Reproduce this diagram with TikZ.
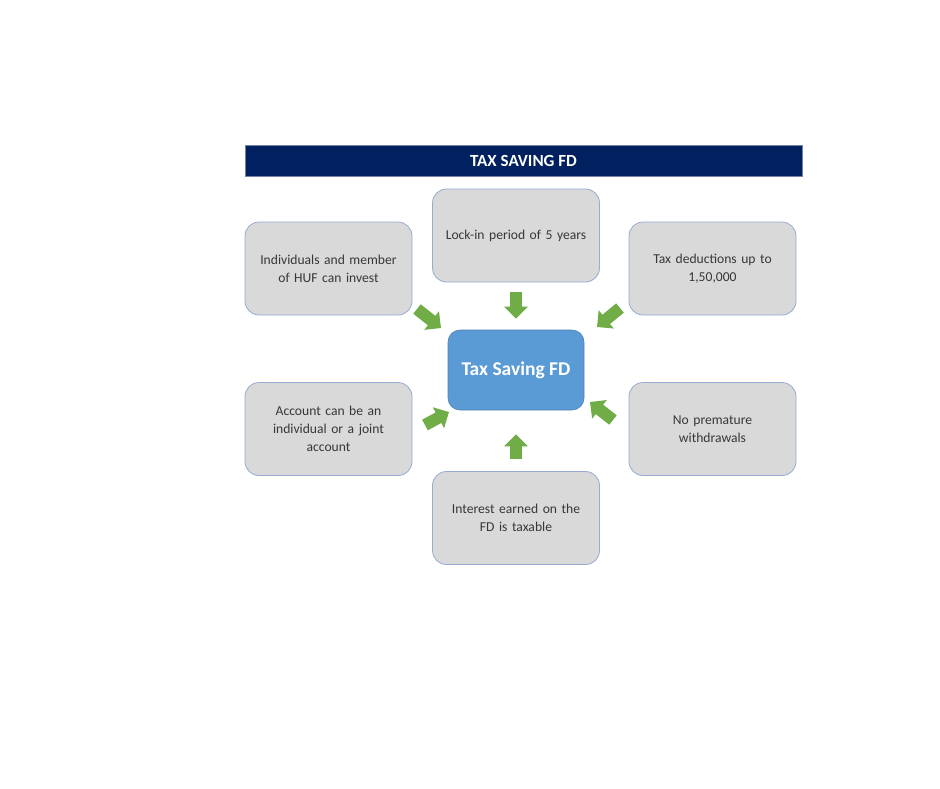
\documentclass[tikz,border=0pt]{standalone}
\usepackage{fontspec}
\setmainfont{Carlito}
\usetikzlibrary{arrows.meta,positioning}
\definecolor{navy}{RGB}{0,32,96}
\definecolor{hubblue}{RGB}{91,155,213}
\definecolor{leaf}{RGB}{112,173,71}
\definecolor{panel}{RGB}{217,217,217}
\definecolor{rim}{RGB}{150,172,210}
\definecolor{ink}{RGB}{55,55,55}
\tikzset{
  box/.style={draw=rim,fill=panel,rounded corners=14pt,line width=0.8pt,align=center,
    minimum width=167pt,minimum height=93pt,text width=150pt,inner sep=0pt,
    font=\fontsize{13.6}{18}\selectfont,text=ink},
  hub/.style={draw=hubblue!85!black,fill=hubblue,rounded corners=12pt,line width=0.6pt,
    minimum width=136pt,minimum height=80pt,inner sep=0pt,text=white,
    font=\fontsize{19.5}{22}\selectfont\bfseries},
  banner/.style={draw=navy!55,fill=navy,line width=0.8pt,minimum width=557pt,minimum height=31pt,
    inner sep=0pt,text=white,font=\fontsize{17}{19}\selectfont\bfseries},
  push/.style={-{Triangle[width=23pt,length=12pt]},line width=12pt,draw=leaf},
}
\begin{document}
\begin{tikzpicture}[x=1pt,y=-1pt]
  \useasboundingbox[fill=white] (0,0) rectangle (940,788);
  \node[banner] (title) at (523.5,160.5) {TAX SAVING FD};
  % centre and the six facts round it
  \node[hub] (fd) at (516,370) {Tax Saving FD};
  \node[box] (lock) at (516,235.5) {Lock-in period of 5 years};
  \node[box] (who) at (328.5,268.5) {Individuals and member\\of HUF can invest};
  \node[box] (ded) at (712.5,268.5) {Tax deductions up to\\1,50,000};
  \node[box] (acct) at (328.5,429) {Account can be an\\individual or a joint\\account};
  \node[box] (nowd) at (712.5,429) {No premature\\withdrawals};
  \node[box] (intr) at (516,518) {Interest earned on the\\FD is taxable};
  % block arrows
  \coordinate (p1) at (417,309);  \coordinate (q1) at (441,328);
  \coordinate (p2) at (620,308);  \coordinate (q2) at (597,327);
  \coordinate (p4) at (425,425);  \coordinate (q4) at (449,412);
  \coordinate (p5) at (613,420);  \coordinate (q5) at (590,402);
  \draw[push] ([yshift=-10pt]lock.south) -- ([yshift=11pt]fd.north);
  \draw[push] (p1) -- (q1);
  \draw[push] (p2) -- (q2);
  \draw[push] (p4) -- (q4);
  \draw[push] (p5) -- (q5);
  \draw[push] ([yshift=12pt]intr.north) -- ([yshift=-24pt]fd.south);
\end{tikzpicture}
\end{document}
